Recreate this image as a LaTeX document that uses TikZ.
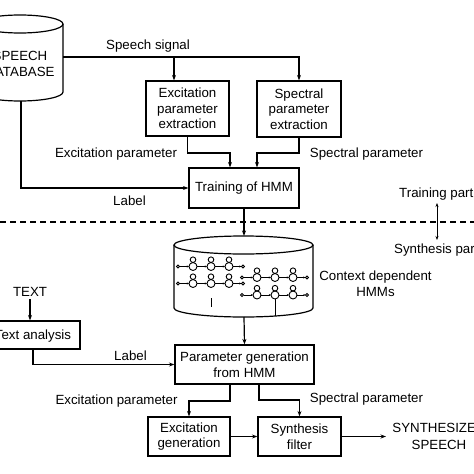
\documentclass[tikz,border=0pt]{standalone}
\usepackage{fontspec}
\setmainfont{Liberation Sans}
\usetikzlibrary{arrows.meta}
\begin{document}
\begin{tikzpicture}[x=1pt,y=-1pt,
  every node/.style={font=\fontsize{13.3}{15.5}\selectfont, inner sep=0pt},
  box/.style={draw, line width=1.2pt, align=center},
  line/.style={line width=1.2pt},
  arr/.style={line width=1.2pt, -{Stealth[length=5.5pt,width=4pt]}},
  lbl/.style={anchor=base},
  thinarr/.style={line width=0.8pt, -{Stealth[length=2.2pt,width=2pt]}},
  hmmchain/.pic={
    \draw[line width=0.8pt] (0,0) circle (1.5pt);
    \foreach \s in {15,33,51} {
      \draw[line width=0.9pt] (\s,0) circle (4pt);
      \draw[line width=0.9pt] (\s,-6.8) circle (2.8pt);
    }
    \draw[thinarr] (1.5,0) -- (11,0);
    \draw[thinarr] (19,0) -- (29,0);
    \draw[thinarr] (37,0) -- (47,0);
    \draw[thinarr] (55,0) -- (63.5,0);
    \draw[line width=0.8pt] (65,0) circle (1.5pt);
  }]
\useasboundingbox (0,0) rectangle (474,474);
\clip (0,0) rectangle (474,474);

% ---------- speech database cylinder ----------
\draw[line] (20,24) ellipse [x radius=43pt, y radius=9pt];
\draw[line] (-23,24) -- (-23,92) arc[start angle=180, end angle=360, x radius=43pt, y radius=9pt] -- (63,24);
\node[lbl] (db1) at (20,60) {SPEECH};
\node[lbl] (db2) at (20,76) {DATABASE};
\coordinate (dbR) at (63,57);
\coordinate (dbB) at (21,101);

% ---------- boxes ----------
\node[box, minimum width=83pt, minimum height=55pt] (exc) at (187.5,108.5) {Excitation\\parameter\\extraction};
\node[box, minimum width=84pt, minimum height=56pt] (spec) at (299,109) {Spectral\\parameter\\extraction};
\node[box, minimum width=110pt, minimum height=40pt] (train) at (244,188) {Training of HMM};
\node[box, minimum width=139pt, minimum height=39pt] (pgen) at (244.5,364.5) {Parameter generation\\from HMM};
\node[box, minimum width=94pt, minimum height=28pt, text depth=0pt] (tana) at (33,335) {Text analysis};
\node[box, minimum width=82pt, minimum height=39pt] (excgen) at (189,436.5) {Excitation\\generation};
\node[box, minimum width=83pt, minimum height=39pt] (synth) at (299.5,436.5) {Synthesis\\filter};

% ---------- labels ----------
\node[lbl] (lss) at (148,49) {Speech signal};
\node[lbl] (lep1) at (116,157) {Excitation parameter};
\node[lbl] (lsp1) at (366.5,157) {Spectral parameter};
\node[lbl] (llab1) at (129.5,205) {Label};
\node[lbl, anchor=base west] (ltp) at (399,197) {Training part};
\node[lbl, anchor=base west] (lsyp) at (394,253) {Synthesis part};
\node[lbl] (lcd1) at (375.5,280) {Context dependent};
\node[lbl] (lcd2) at (375.5,296) {HMMs};
\node[lbl] (ltext) at (30,296) {TEXT};
\node[lbl] (llab2) at (130.5,360) {Label};
\node[lbl] (lep2) at (116.5,404) {Excitation parameter};
\node[lbl] (lsp2) at (366.5,402) {Spectral parameter};
\node[lbl] (lout1) at (439,432) {SYNTHESIZED};
\node[lbl] (lout2) at (439,449) {SPEECH};

% ---------- training part connectors ----------
\coordinate (s1) at (174,57);
\draw[line] (dbR) -- (s1);
\draw[arr] (s1) -- (s1 |- exc.north);
\draw[arr] (s1) -| (spec.north);
\coordinate (t1) at (230,153);
\coordinate (t2) at (257,153);
\draw[arr] (exc.south) |- (t1) -- (t1 |- train.north);
\draw[arr] (spec.south) |- (t2) -- (t2 |- train.north);
\draw[arr] (dbB) |- (train.west);

% ---------- dashed separator ----------
\coordinate (dl) at (0,222);
\coordinate (dr) at (474,222);
\draw[line width=1.3pt, dash pattern=on 6pt off 4pt] (dl) -- (dr);
\coordinate (tp) at (437,203);
\coordinate (sp) at (437,240);
\draw[line width=1pt, {Stealth[length=4pt,width=3pt]}-{Stealth[length=4pt,width=3pt]}] (tp) -- (sp);

% ---------- HMM database cylinder ----------
\draw[line] (243.5,245) ellipse [x radius=69.5pt, y radius=9pt];
\draw[line] (174,245) -- (174,308) arc[start angle=180, end angle=360, x radius=69.5pt, y radius=9pt] -- (313,245);
\coordinate (hmmtop) at (244,236);
\coordinate (hmmbot) at (244,317);
\draw[arr] (train.south) -- (hmmtop);
\pic at (178,266.5) {hmmchain};
\pic at (178,283.5) {hmmchain};
\pic at (242,277.5) {hmmchain};
\pic at (242,295) {hmmchain};
\draw[line width=0.9pt] (211,298) -- (211,307);
\draw[line width=0.9pt] (275,299) -- (275,316);

% ---------- synthesis part connectors ----------
\draw[arr] (hmmbot) -- (pgen.north);
\draw[arr, shorten <=3pt] (ltext.south) -- (ltext.south |- tana.north);
\draw[arr] (tana.south) |- (pgen.west);
\coordinate (k1) at (230,401);
\coordinate (k2) at (259,400);
\draw[arr] (k1 |- pgen.south) -- (k1) -| (excgen.north);
\draw[arr] (k2 |- pgen.south) -- (k2) -| (synth.north);
\draw[arr] (excgen.east) -- (synth.west);
\coordinate (outp) at (386,436.5);
\draw[arr] (synth.east) -- (outp);
\end{tikzpicture}
\end{document}
